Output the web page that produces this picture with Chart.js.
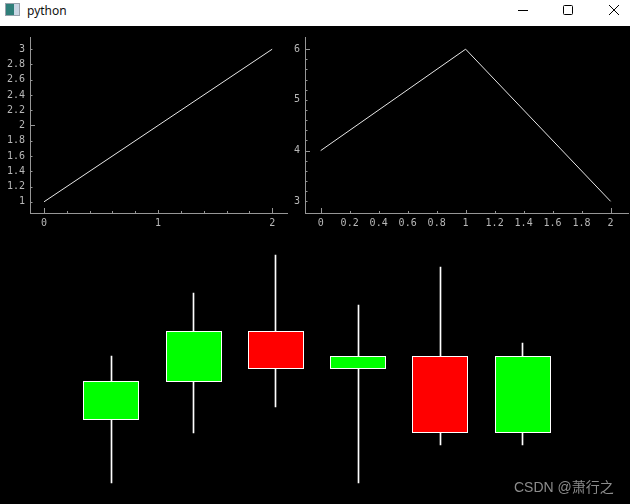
<!DOCTYPE html>
<html>
<head>
<meta charset="utf-8">
<script src="https://cdn.jsdelivr.net/npm/chart.js@4"></script>
<style>
html,body{margin:0;padding:0;background:#000;width:630px;height:504px;overflow:hidden}
#bar{position:absolute;left:0;top:0;width:630px;height:26px;background:#fff}
#title{position:absolute;left:27px;top:2px;font:12px "Noto Sans",sans-serif;color:#111;line-height:18px}
#icon{position:absolute;left:5px;top:3px;width:13px;height:11px;border:1px solid #9aa3ad;background:linear-gradient(90deg,#2f7f7a 0 60%,#c9d6e4 60%)}
.wb{position:absolute;top:0;height:26px}
canvas{position:absolute}
#mark{position:absolute;left:514px;top:476px;font:14px "Liberation Sans","Noto Sans CJK SC",sans-serif;color:#8c8c8c;white-space:nowrap}
</style>
</head>
<body>
<div id="bar">
  <div id="icon"></div>
  <div id="title">python</div>
  <svg class="wb" style="left:510px" width="120" height="26" viewBox="0 0 120 26">
    <path d="M8 10.5H18" stroke="#000" fill="none"/>
    <rect x="53.5" y="5.5" width="9" height="9" rx="1" stroke="#000" fill="none"/>
    <path d="M99 5L109 15M109 5L99 15" stroke="#000" fill="none"/>
  </svg>
</div>
<canvas id="c1" width="290" height="214" style="left:0;top:26px"></canvas>
<canvas id="c2" width="345" height="214" style="left:285px;top:26px"></canvas>
<canvas id="c3" width="630" height="264" style="left:0;top:240px"></canvas>
<div id="mark">CSDN @萧行之</div>
<script>
const line1X = [0, 1, 2];
const line1Y = [1, 2, 3];
const line2X = [0, 1, 2];
const line2Y = [4, 6, 3];
const tenths = [0, 0.2, 0.4, 0.6, 0.8, 1, 1.2, 1.4, 1.6, 1.8, 2];
const c1YTicks = [1, 1.2, 1.4, 1.6, 1.8, 2, 2.2, 2.4, 2.6, 2.8, 3];
const c2YTicks = [3, 3.2, 3.4, 3.6, 3.8, 4, 4.2, 4.4, 4.6, 4.8, 5, 5.2, 5.4, 5.6, 5.8, 6];
const c1XLabels = [0, 1, 2];
const c1YLabels = c1YTicks;
const c2XLabels = tenths;
const c2YLabels = [3, 4, 5, 6];
const xLongTicks = [0, 2];
const xMidTicks = [1];
const c1YLong = [2];
const c2YLong = [4, 6];

const candleDays = ['1', '2', '3', '4', '5', '6'];
const opens = [10, 13, 17, 14, 15, 9];
const closes = [13, 17, 14, 15, 9, 15];
const lows = [5, 9, 11, 5, 8, 8];
const highs = [15, 20, 23, 19, 22, 16];

const GREY = '#969696';
const LABEL = '#b8b8b8';
const FONT = {family: '"DejaVu Sans Mono","Liberation Mono",monospace', size: 10};

const tickMarks = {
  id: 'tickMarks',
  afterDatasetsDraw(chart, args, opts) {
    const ctx = chart.ctx;
    ctx.save();
    ctx.strokeStyle = GREY;
    ctx.lineWidth = 1;
    ctx.beginPath();
    const x = chart.scales.x, y = chart.scales.y;
    x.ticks.forEach(t => {
      const len = xLongTicks.includes(t.value) ? 5 : xMidTicks.includes(t.value) ? 3 : 2;
      const px = Math.round(x.getPixelForValue(t.value)) + 0.5;
      ctx.moveTo(px, x.top); ctx.lineTo(px, x.top - len);
    });
    y.ticks.forEach(t => {
      const len = opts.yLong.includes(t.value) ? 5 : 2.5;
      const py = Math.round(y.getPixelForValue(t.value)) + 0.5;
      ctx.moveTo(y.right, py); ctx.lineTo(y.right + len, py);
    });
    ctx.stroke();
    ctx.restore();
  }
};

const snapBars = {
  id: 'snapBars',
  afterDatasetsUpdate(chart) {
    chart.data.datasets.forEach((ds, i) => {
      chart.getDatasetMeta(i).data.forEach(el => {
        const w = Math.round(el.width);
        const top = Math.floor(Math.min(el.y, el.base));
        const bottom = Math.floor(Math.max(el.y, el.base));
        el.x = (w === 1 ? Math.floor(el.x) : Math.round(el.x - w / 2)) + w / 2;
        el.width = w;
        el.y = top;
        el.base = bottom + 1;
      });
    });
  }
};

function axis(min, max, tickValues, labelValues, fit, padding) {
  return {
    type: 'linear', min, max,
    grid: {display: false, drawTicks: false},
    border: {display: true, color: GREY, width: 1},
    afterBuildTicks: s => { s.ticks = tickValues.map(value => ({value})); },
    afterFit: fit,
    ticks: {
      color: LABEL, font: FONT, padding, autoSkip: false, maxRotation: 0,
      callback: v => labelValues.includes(v) ? String(v) : ''
    }
  };
}

function lineChart(id, xs, ys, xr, yr, xT, xL, yT, yL, yWidth, right, yLong) {
  return new Chart(document.getElementById(id), {
    type: 'scatter',
    data: {datasets: [{
      data: xs.map((x, i) => ({x, y: ys[i]})),
      showLine: true, borderColor: '#e8e8e8', borderWidth: 1,
      pointRadius: 0, tension: 0, clip: false
    }]},
    options: {
      responsive: false, animation: false, devicePixelRatio: 1,
      layout: {padding: {left: 0, top: 9, right, bottom: 0}},
      plugins: {legend: {display: false}, tooltip: {enabled: false}, tickMarks: {yLong}},
      scales: {
        x: axis(xr[0], xr[1], xT, xL, s => { s.height = 27; }, 4),
        y: axis(yr[0], yr[1], yT, yL, s => { s.width = yWidth; }, 5)
      }
    },
    plugins: [tickMarks]
  });
}

lineChart('c1', line1X, line1Y, [-0.123, 2.13], [0.853, 3.16], tenths, c1XLabels, c1YTicks, c1YLabels, 30, 3, c1YLong);
lineChart('c2', line2X, line2Y, [-0.108, 2.12], [2.77, 6.24], tenths, c2XLabels, c2YTicks, c2YLabels, 20, 2, c2YLong);

new Chart(document.getElementById('c3'), {
  type: 'bar',
  data: {
    labels: candleDays,
    datasets: [
      {
        data: opens.map((o, i) => [o, closes[i]]),
        backgroundColor: opens.map((o, i) => o > closes[i] ? '#ff0000' : '#00ff00'),
        borderColor: '#ffffff', borderWidth: 1, borderSkipped: false,
        barPercentage: 0.68, categoryPercentage: 1, grouped: false
      },
      {
        data: lows.map((l, i) => [l, highs[i]]),
        backgroundColor: '#ffffff', borderWidth: 0,
        barThickness: 1, grouped: false
      }
    ]
  },
  options: {
    responsive: false, animation: false, devicePixelRatio: 1,
    layout: {padding: {left: 70.05, right: 66.15, top: 5, bottom: 9}},
    plugins: {legend: {display: false}, tooltip: {enabled: false}},
    scales: {
      x: {type: 'category', display: false, offset: true, grid: {display: false}},
      y: {type: 'linear', display: false, min: 4.018, max: 23.82, grid: {display: false}}
    }
  },
  plugins: [snapBars]
});
</script>
</body>
</html>
